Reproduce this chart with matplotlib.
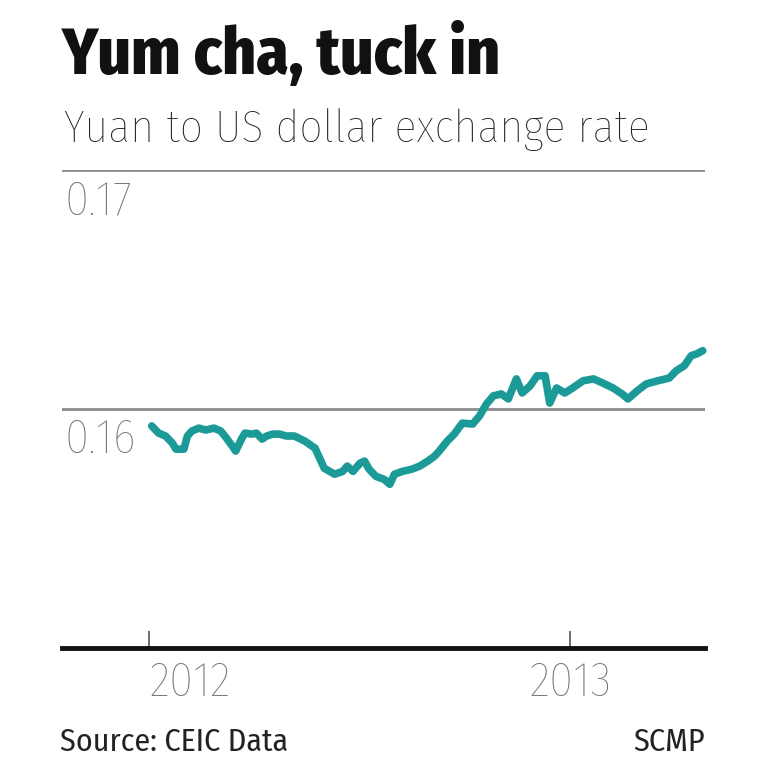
import matplotlib
matplotlib.use("Agg")
import matplotlib.pyplot as plt
import pandas as pd

# yuan per US dollar
dates = [
    "2012-01-03", "2012-01-09", "2012-01-15", "2012-01-21", "2012-01-24",
    "2012-01-31", "2012-02-03", "2012-02-07", "2012-02-13", "2012-02-19",
    "2012-02-26", "2012-03-03", "2012-03-08", "2012-03-13", "2012-03-16",
    "2012-03-21", "2012-03-24", "2012-03-30", "2012-04-03", "2012-04-08",
    "2012-04-12", "2012-04-17", "2012-04-23", "2012-04-29", "2012-05-06",
    "2012-05-15", "2012-05-24", "2012-05-28", "2012-06-01", "2012-06-10",
    "2012-06-17", "2012-06-21", "2012-06-26", "2012-07-02", "2012-07-06",
    "2012-07-10", "2012-07-16", "2012-07-23", "2012-07-28", "2012-08-01",
    "2012-08-08", "2012-08-16", "2012-08-23", "2012-08-30", "2012-09-05",
    "2012-09-09", "2012-09-16", "2012-09-22", "2012-09-29", "2012-10-08",
    "2012-10-14", "2012-10-20", "2012-10-26", "2012-11-02", "2012-11-08",
    "2012-11-15", "2012-11-20", "2012-11-27", "2012-12-03", "2012-12-10",
    "2012-12-14", "2012-12-20", "2012-12-27", "2013-01-03", "2013-01-12",
    "2013-01-21", "2013-01-29", "2013-02-07", "2013-02-15", "2013-02-20",
    "2013-02-28", "2013-03-08", "2013-03-18", "2013-03-28", "2013-04-03",
    "2013-04-10", "2013-04-16", "2013-04-21", "2013-04-26",
]
rates = [
    0.15929, 0.15899, 0.15887, 0.15857, 0.15832,
    0.15832, 0.15887, 0.15908, 0.15920, 0.15912,
    0.15920, 0.15908, 0.15878, 0.15845, 0.15824,
    0.15874, 0.15899, 0.15895, 0.15899, 0.15874,
    0.15887, 0.15895, 0.15895, 0.15887, 0.15887,
    0.15866, 0.15836, 0.15794, 0.15752, 0.15727,
    0.15739, 0.15761, 0.15739, 0.15773, 0.15782,
    0.15748, 0.15718, 0.15706, 0.15685, 0.15727,
    0.15739, 0.15748, 0.15761, 0.15782, 0.15803,
    0.15824, 0.15866, 0.15895, 0.15941, 0.15937,
    0.15971, 0.16021, 0.16055, 0.16063, 0.16042,
    0.16126, 0.16067, 0.16097, 0.16139, 0.16139,
    0.16025, 0.16088, 0.16067, 0.16088, 0.16118,
    0.16126, 0.16109, 0.16088, 0.16063, 0.16042,
    0.16076, 0.16105, 0.16118, 0.16130, 0.16160,
    0.16181, 0.16223, 0.16231, 0.16244,
]
y_ticks = [0.16, 0.17]
x_ticks = ["2012-01-01", "2013-01-01"]
x_tick_labels = ["2012", "2013"]

TEAL = "#1c9a98"
GRID = "#8c8c8c"

plt.rcParams["font.family"] = ["Fira Sans Condensed", "DejaVu Sans"]

fig = plt.figure(figsize=(7.68, 7.68), dpi=100)
ax = fig.add_axes([62 / 768, 1 - 648 / 768, (705 - 62) / 768, (648 - 170) / 768])

x = pd.to_datetime(dates)
ax.plot(x, rates, color=TEAL, lw=5.5, solid_joinstyle="round", solid_capstyle="round",
        zorder=3, clip_on=False)

ax.set_xlim(pd.Timestamp("2011-10-17"), pd.Timestamp("2013-04-28"))
ax.set_ylim(0.15, 0.17)

# gridlines with the value label sitting just under each one
for v in y_ticks:
    ax.axhline(v, color=GRID, lw=2, zorder=1)
    ax.text(0.004, v - 0.0003, f"{v:.2f}", transform=ax.get_yaxis_transform(),
            ha="left", va="top", fontsize=35, fontweight="light", color="#777777")

for s in ["top", "right", "left"]:
    ax.spines[s].set_visible(False)
ax.spines["bottom"].set_linewidth(3.5)
ax.spines["bottom"].set_color("#111111")
ax.set_yticks([])

ax.set_xticks(pd.to_datetime(x_ticks))
ax.set_xticklabels(x_tick_labels, fontsize=35, fontweight="light", color="#777777")
ax.tick_params(axis="x", direction="in", length=12, width=1.2, color="#555555", pad=8)
ax.get_xticklabels()[0].set_ha("left")

fig.text(62 / 768, 1 - 55 / 768, "Yum cha, tuck in", fontsize=47, fontweight="heavy",
         color="#111111", ha="left", va="center")
fig.text(64 / 768, 1 - 130 / 768, "Yuan to US dollar exchange rate", fontsize=33,
         fontweight="light", color="#1e1e1e", ha="left", va="center")
fig.text(60 / 768, 1 - 742 / 768, "Source: CEIC Data", fontsize=23, color="#222222",
         ha="left", va="center")
fig.text(705 / 768, 1 - 742 / 768, "SCMP", fontsize=23, color="#222222",
         ha="right", va="center")

fig.savefig("out.png", dpi=100)
